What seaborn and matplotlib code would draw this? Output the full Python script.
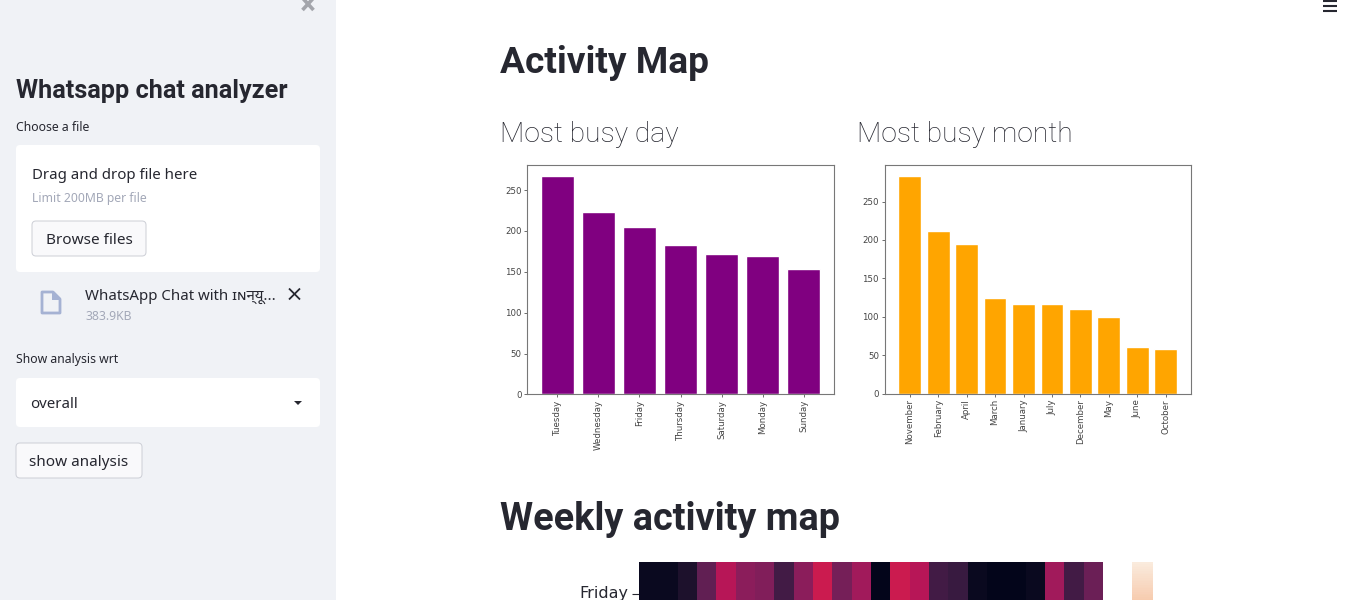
import warnings
import matplotlib
matplotlib.use('Agg')
import matplotlib.pyplot as plt
from matplotlib.patches import FancyBboxPatch, Polygon, Rectangle
import pandas as pd
import seaborn as sns

warnings.filterwarnings('ignore')

# values
days = ['Tuesday', 'Wednesday', 'Friday', 'Thursday', 'Saturday', 'Monday', 'Sunday']
day_counts = [267, 223, 205, 183, 172, 169, 154]
months = ['November', 'February', 'April', 'March', 'January', 'July',
          'December', 'May', 'June', 'October']
month_counts = [283, 211, 195, 125, 116, 116, 110, 99, 61, 58]
hours = list(range(24))
friday_counts = [1, 1, 3, 10, 18, 14, 13, 7, 14, 20, 12, 16, 0, 20, 18, 7, 6, 1, 0, 0, 1, 16, 7, 11]
heat_max = 40

W, H = 1357, 600
FONT = ['Noto Sans', 'DejaVu Sans']
HEAD = ['Roboto', 'DejaVu Sans']
PLOT_FONT = 'DejaVu Sans'
DARK = '#262730'
MUTED = '#a3a8b8'

sns.set_theme(style='white')
plt.rcParams['font.family'] = FONT

fig = plt.figure(figsize=(W / 100, H / 100), dpi=100, facecolor='white')


def px_axes(left, top, right, bottom):
    # axes placed by screenshot pixels
    return fig.add_axes([left / W, 1 - bottom / H, (right - left) / W, (bottom - top) / H])


def box(ax, x0, y0, x1, y1, face, edge='none', r=4):
    ax.add_patch(FancyBboxPatch((x0, y0), x1 - x0, y1 - y0, boxstyle=f'round,pad=0,rounding_size={r}',
                                facecolor=face, edgecolor=edge, linewidth=0.75))


def cross(ax, x0, y0, x1, y1, color, lw):
    ax.plot([x0, x1], [y0, y1], color=color, linewidth=lw, solid_capstyle='butt')
    ax.plot([x0, x1], [y1, y0], color=color, linewidth=lw, solid_capstyle='butt')


# page chrome in pixel coordinates
bg = fig.add_axes([0, 0, 1, 1])
bg.set_xlim(0, W)
bg.set_ylim(H, 0)
bg.axis('off')
bg.add_patch(Rectangle((0, 0), 336, H, facecolor='#f0f2f6', edgecolor='none'))
box(bg, 16, 145, 320, 272, 'white')
box(bg, 32, 221, 146, 256, '#f9f9fb', '#cfd1d8')
box(bg, 16, 378, 320, 427, 'white')
box(bg, 16, 443, 142, 478, '#f9f9fb', '#cfd1d8')
bg.add_patch(Polygon([(294, 401), (302, 401), (298, 405)], facecolor=DARK, edgecolor='none'))
bg.add_patch(Polygon([(42, 292), (53, 292), (60, 299), (60, 313), (42, 313)], closed=True,
                     facecolor='none', edgecolor='#a5b2d3', linewidth=2, joinstyle='round'))
bg.add_patch(Polygon([(52, 292), (52, 300), (60, 300)], facecolor='#a5b2d3', edgecolor='none'))
for y in (1, 6, 11):
    bg.plot([1323, 1337], [y, y], color=DARK, linewidth=1.5, solid_capstyle='butt')
cross(bg, 302.5, -2, 313.5, 10, '#a3a5ab', 2.6)
cross(bg, 289, 288.5, 300, 299.5, DARK, 1.3)

bg.text(16, 98, 'Whatsapp chat analyzer', family=HEAD, fontsize=18.2, fontweight='bold', color=DARK)
bg.text(16, 131, 'Choose a file', fontsize=8.8, color=DARK)
bg.text(32, 179, 'Drag and drop file here', fontsize=10.8, color=DARK)
bg.text(32, 202, 'Limit 200MB per file', fontsize=8.8, color=MUTED)
bg.text(89, 244, 'Browse files', fontsize=11, color=DARK, ha='center')
bg.text(85, 300, 'WhatsApp Chat with ɪɴन्यू...', fontsize=10.8, color=DARK)
bg.text(85, 320, '383.9KB', fontsize=8.8, color=MUTED)
bg.text(16, 363, 'Show analysis wrt', fontsize=8.8, color=DARK)
bg.text(30, 408, 'overall', fontsize=10.8, color=DARK)
bg.text(79, 466, 'show analysis', fontsize=11, color=DARK, ha='center')
bg.text(500, 73, 'Activity Map', family=HEAD, fontsize=26.7, fontweight='bold', color=DARK)
bg.text(500, 142, 'Most busy day', family=HEAD, fontsize=20.3, fontweight='light', color=DARK)
bg.text(857, 142, 'Most busy month', family=HEAD, fontsize=20.3, fontweight='light', color=DARK)
bg.text(500, 530, 'Weekly activity map', family=HEAD, fontsize=27.3, fontweight='bold', color=DARK)


def bar_panel(rect, labels, values, color, yticks):
    ax = px_axes(*rect)
    sns.barplot(x=labels, y=values, color=color, saturation=1, width=0.8, ax=ax)
    n = len(labels)
    pad = 0.05 * (n - 0.2)
    ax.set_xlim(-0.4 - pad, n - 0.6 + pad)
    ax.set_ylim(0, max(values) * 1.05)
    ax.set_yticks(yticks)
    ax.tick_params(axis='both', left=True, bottom=True, labelsize=6.2, length=2, width=0.6,
                   color='#555555', labelcolor='#444444', pad=2,
                   labelfontfamily=PLOT_FONT)
    ax.tick_params(axis='x', labelrotation=90)
    for spine in ax.spines.values():
        spine.set_visible(True)
        spine.set_color('#777777')
        spine.set_linewidth(0.8)
    ax.set_facecolor('white')
    return ax


bar_panel((527, 165.3, 834, 394.4), days, day_counts, 'purple', [0, 50, 100, 150, 200, 250])
bar_panel((884.5, 165.3, 1191, 393.5), months, month_counts, 'orange', [0, 50, 100, 150, 200, 250])

# heatmap runs off the bottom of the screenshot, only the Friday row shows
heat_ax = px_axes(639, 562, 1103, 626)
cbar_ax = px_axes(1132, 562, 1153, 1010)
heat = pd.DataFrame([friday_counts], index=['Friday'], columns=hours)
sns.heatmap(heat, ax=heat_ax, cbar_ax=cbar_ax, vmin=0, vmax=heat_max, xticklabels=False)
heat_ax.set_xlabel('')
heat_ax.tick_params(axis='y', left=True, length=5, width=0.8, color=DARK, labelsize=11.5,
                    labelcolor=DARK, labelrotation=0, pad=3, labelfontfamily=PLOT_FONT)
cbar_ax.tick_params(right=False, labelright=False)

fig.savefig('out.png', dpi=100)
